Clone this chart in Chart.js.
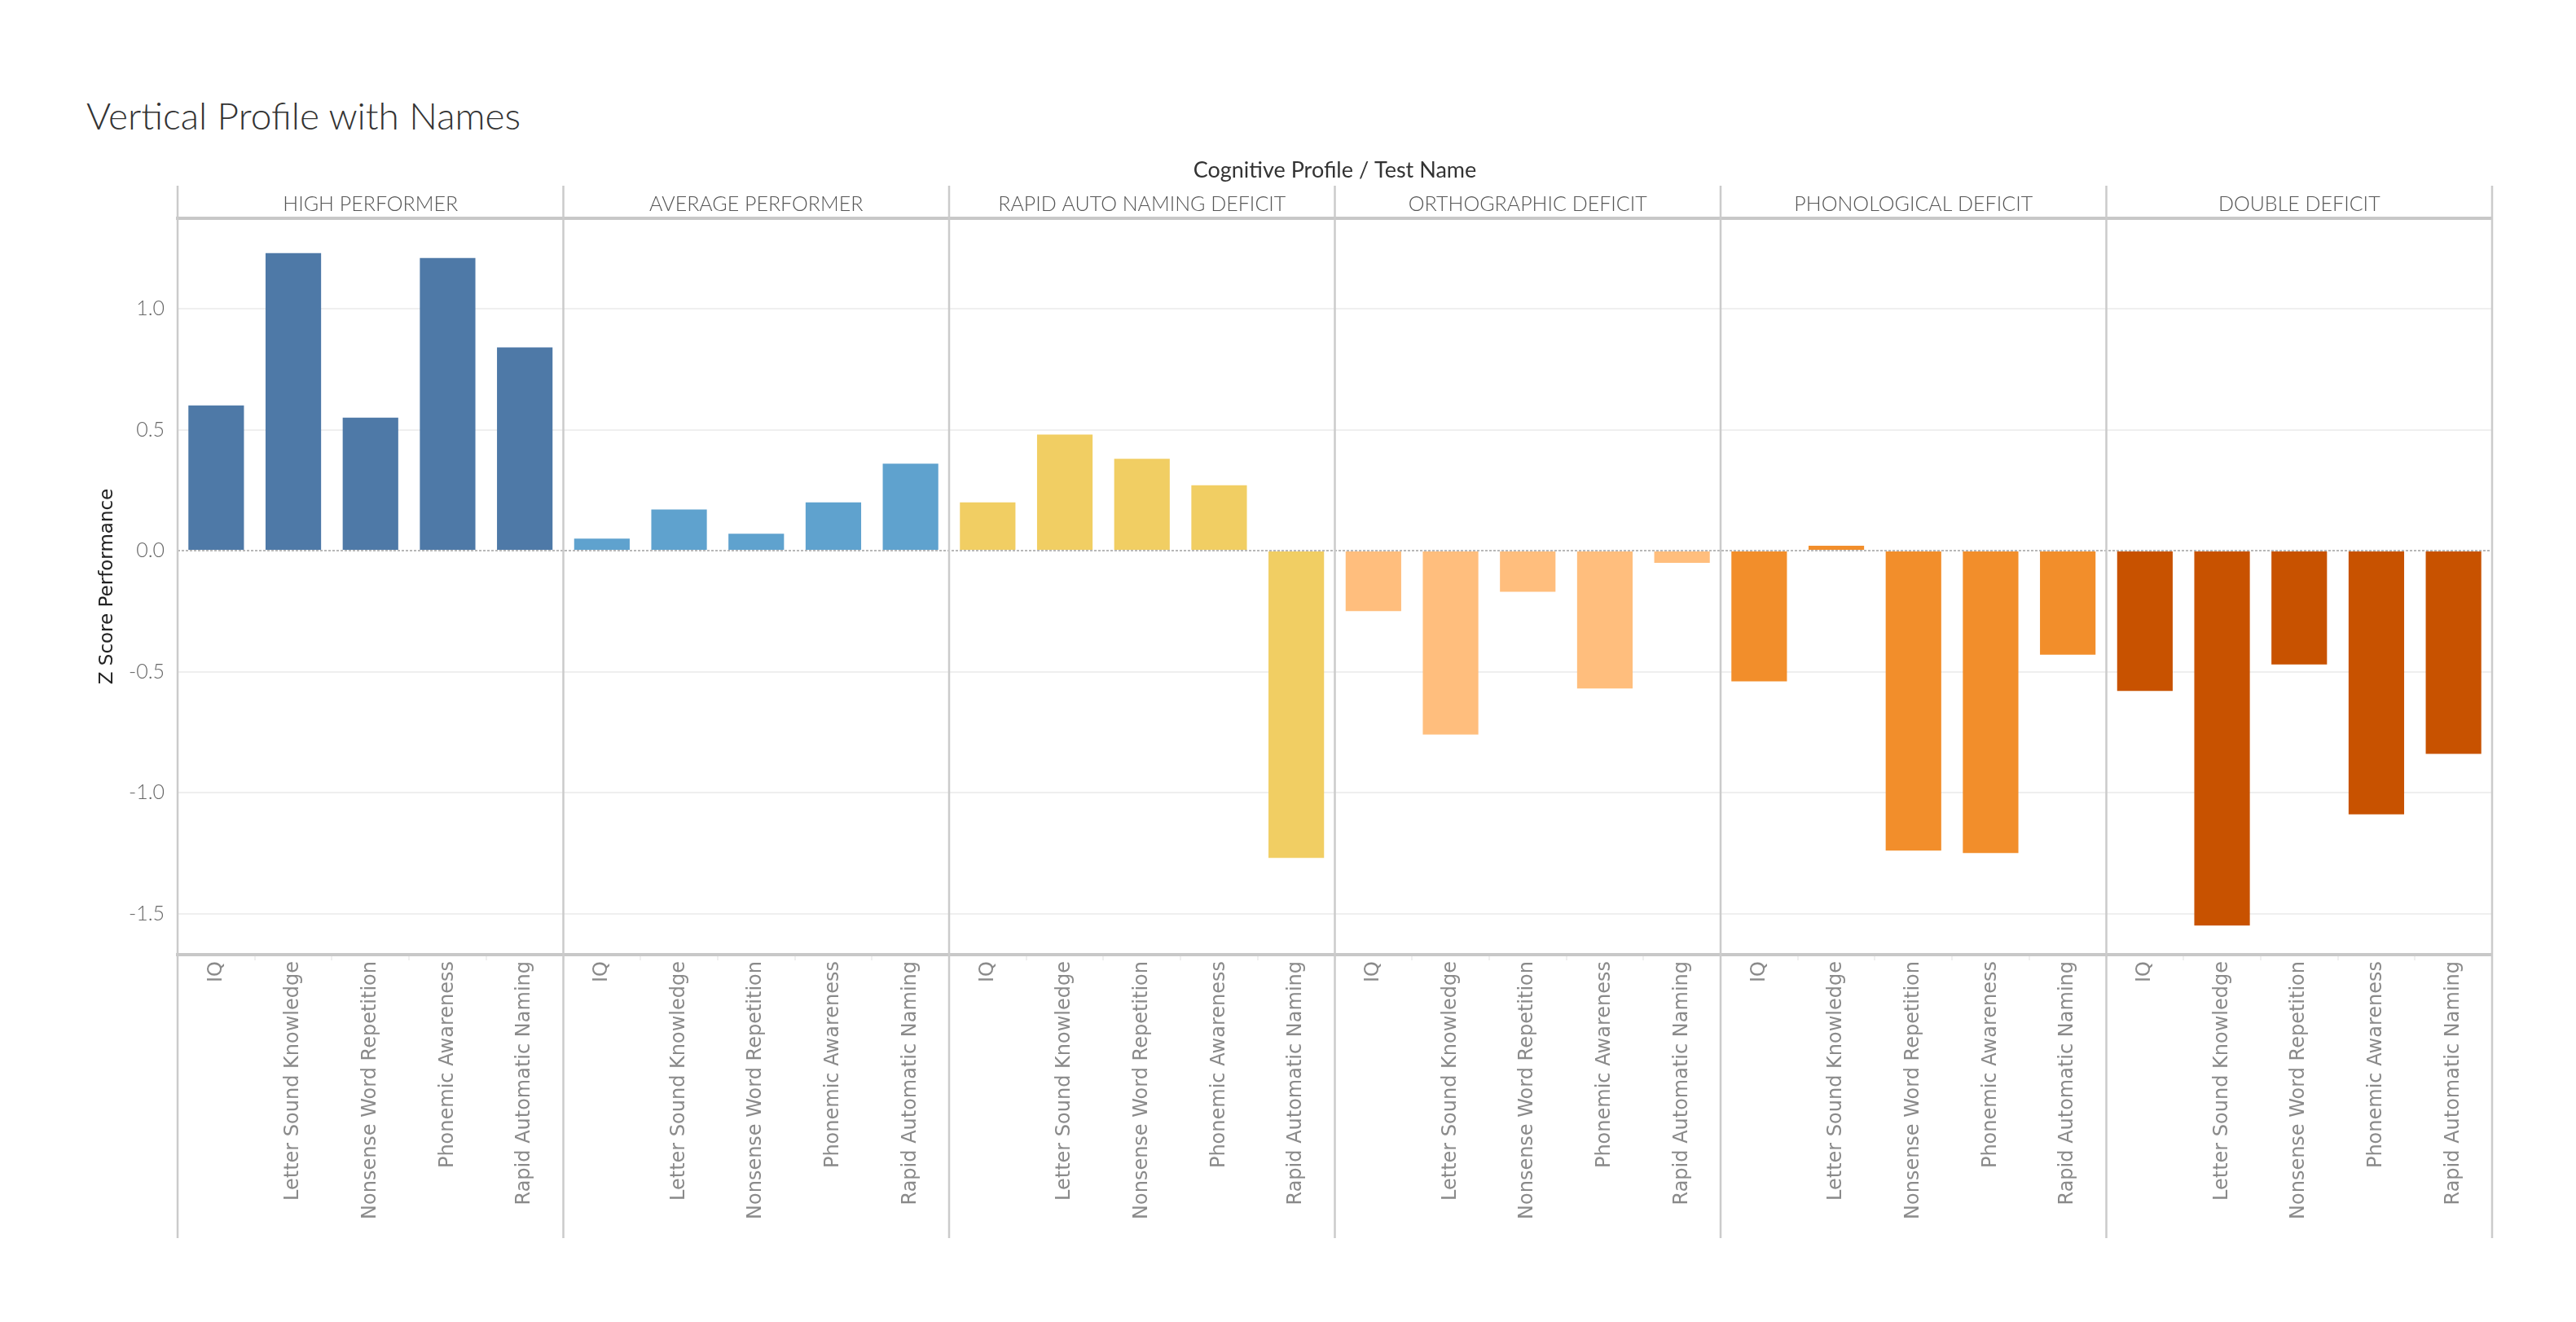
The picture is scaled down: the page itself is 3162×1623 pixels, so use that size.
<!DOCTYPE html>
<html><head><meta charset="utf-8">
<script src="https://cdn.jsdelivr.net/npm/chart.js@4"></script>
<style>
html,body{margin:0;padding:0;background:#fff;}
#wrap{position:relative;width:3162px;height:1623px;}
#title{position:absolute;left:106px;top:114px;font-family:Lato,"Open Sans",sans-serif;font-weight:300;font-size:46px;color:#333;line-height:56px;white-space:nowrap}
canvas{position:absolute;left:0;top:0}
</style></head><body>
<div id="wrap"><div id="title">Vertical Profile with Names</div><canvas id="c" width="3162" height="1623"></canvas></div>
<script>
// ---- data ----
const groups = ["HIGH PERFORMER","AVERAGE PERFORMER","RAPID AUTO NAMING DEFICIT","ORTHOGRAPHIC DEFICIT","PHONOLOGICAL DEFICIT","DOUBLE DEFICIT"];
const tests = ["IQ","Letter Sound Knowledge","Nonsense Word Repetition","Phonemic Awareness","Rapid Automatic Naming"];
const highPerformer    = [0.60, 1.23, 0.55, 1.21, 0.84];
const averagePerformer = [0.05, 0.17, 0.07, 0.20, 0.36];
const ranDeficit       = [0.20, 0.48, 0.38, 0.27, -1.27];
const orthoDeficit     = [-0.25, -0.76, -0.17, -0.57, -0.05];
const phonoDeficit     = [-0.54, 0.02, -1.24, -1.25, -0.43];
const doubleDeficit    = [-0.58, -1.55, -0.47, -1.09, -0.84];
const groupColors = ["#4e79a7","#5fa2ce","#f1ce63","#ffbe7d","#f28e2b","#c85200"];
const yTicks = [-1.5,-1.0,-0.5,0.0,0.5,1.0];

const groupValues = [highPerformer, averagePerformer, ranDeficit, orthoDeficit, phonoDeficit, doubleDeficit];
const labels = [], values = [], colors = [];
groupValues.forEach((arr, g) => arr.forEach((v, i) => { labels.push(tests[i]); values.push(v); colors.push(groupColors[g]); }));

const panelPlugin = {
  id: 'panels',
  afterDatasetsDraw(chart) {
    const {ctx, chartArea, scales} = chart;
    const x = scales.x, y = scales.y, x2 = scales.x2;
    const half = (x.getPixelForValue(1) - x.getPixelForValue(0)) / 2;
    const y0 = y.getPixelForValue(0);
    ctx.save();
    ctx.strokeStyle = '#b8b8b8';
    ctx.lineWidth = 2;
    ctx.setLineDash([3, 2]);
    ctx.beginPath(); ctx.moveTo(chartArea.left, y0); ctx.lineTo(chartArea.right, y0); ctx.stroke();
    ctx.setLineDash([]);
    ctx.strokeStyle = '#cbcbcb';
    ctx.lineWidth = 2.5;
    const top = x2.bottom - 40, bottom = x.bottom;
    for (let g = 0; g <= groups.length; g++) {
      const px = g < groups.length ? x.getPixelForValue(g * tests.length) - half : x.getPixelForValue(labels.length - 1) + half;
      ctx.beginPath(); ctx.moveTo(px, top); ctx.lineTo(px, bottom); ctx.stroke();
    }
    ctx.restore();
  }
};

new Chart(document.getElementById('c'), {
  type: 'bar',
  data: { labels: labels, datasets: [{ data: values, backgroundColor: colors, borderWidth: 0, barPercentage: 0.72, categoryPercentage: 1.0 }] },
  options: {
    responsive: false, animation: false,
    layout: { padding: { left: 0, right: 103, top: 188, bottom: 103 } },
    plugins: { legend: { display: false }, tooltip: { enabled: false }, title: { display: false } },
    scales: {
      x: {
        type: 'category', position: 'bottom',
        grid: { display: true, drawOnChartArea: false, drawTicks: true, tickLength: 7, offset: true, color: '#f0f0f0', tickColor: '#f0f0f0', lineWidth: 2 },
        border: { display: true, color: '#c8c8c8', width: 4 },
        ticks: { autoSkip: false, maxRotation: 90, minRotation: 90, padding: 1, color: '#8a8a8a', font: { family: 'DejaVu Sans', size: 24 } },
        afterFit: s => { s.height = 348; }
      },
      x2: {
        type: 'category', position: 'top', labels: groups, offset: true,
        grid: { display: false },
        border: { display: true, color: '#c8c8c8', width: 4 },
        ticks: { autoSkip: false, maxRotation: 0, minRotation: 0, padding: -6, color: '#555', font: { family: 'Lato', weight: '300', size: 25 } },
        title: { display: true, text: 'Cognitive Profile / Test Name', color: '#333', padding: { top: 5, bottom: 0 }, font: { family: 'Lato', size: 27 } },
        afterFit: s => { s.height = 80; }
      },
      y: {
        type: 'linear', min: -1.67, max: 1.374,
        afterBuildTicks: s => { s.ticks = yTicks.map(v => ({ value: v })); },
        grid: { color: c => (c.tick && c.tick.value === 0) ? 'rgba(0,0,0,0)' : '#efefef', lineWidth: 2, drawTicks: false },
        border: { display: false },
        ticks: { padding: 16, color: '#666', font: { family: 'Lato', weight: '300', size: 25 }, callback: v => v.toFixed(1) },
        title: { display: true, text: 'Z Score Performance', color: '#222', padding: { top: 118, bottom: 0 }, font: { family: 'DejaVu Sans', size: 23 } },
        afterFit: s => { s.width = 218; }
      }
    }
  },
  plugins: [panelPlugin]
});
</script>
</body></html>
